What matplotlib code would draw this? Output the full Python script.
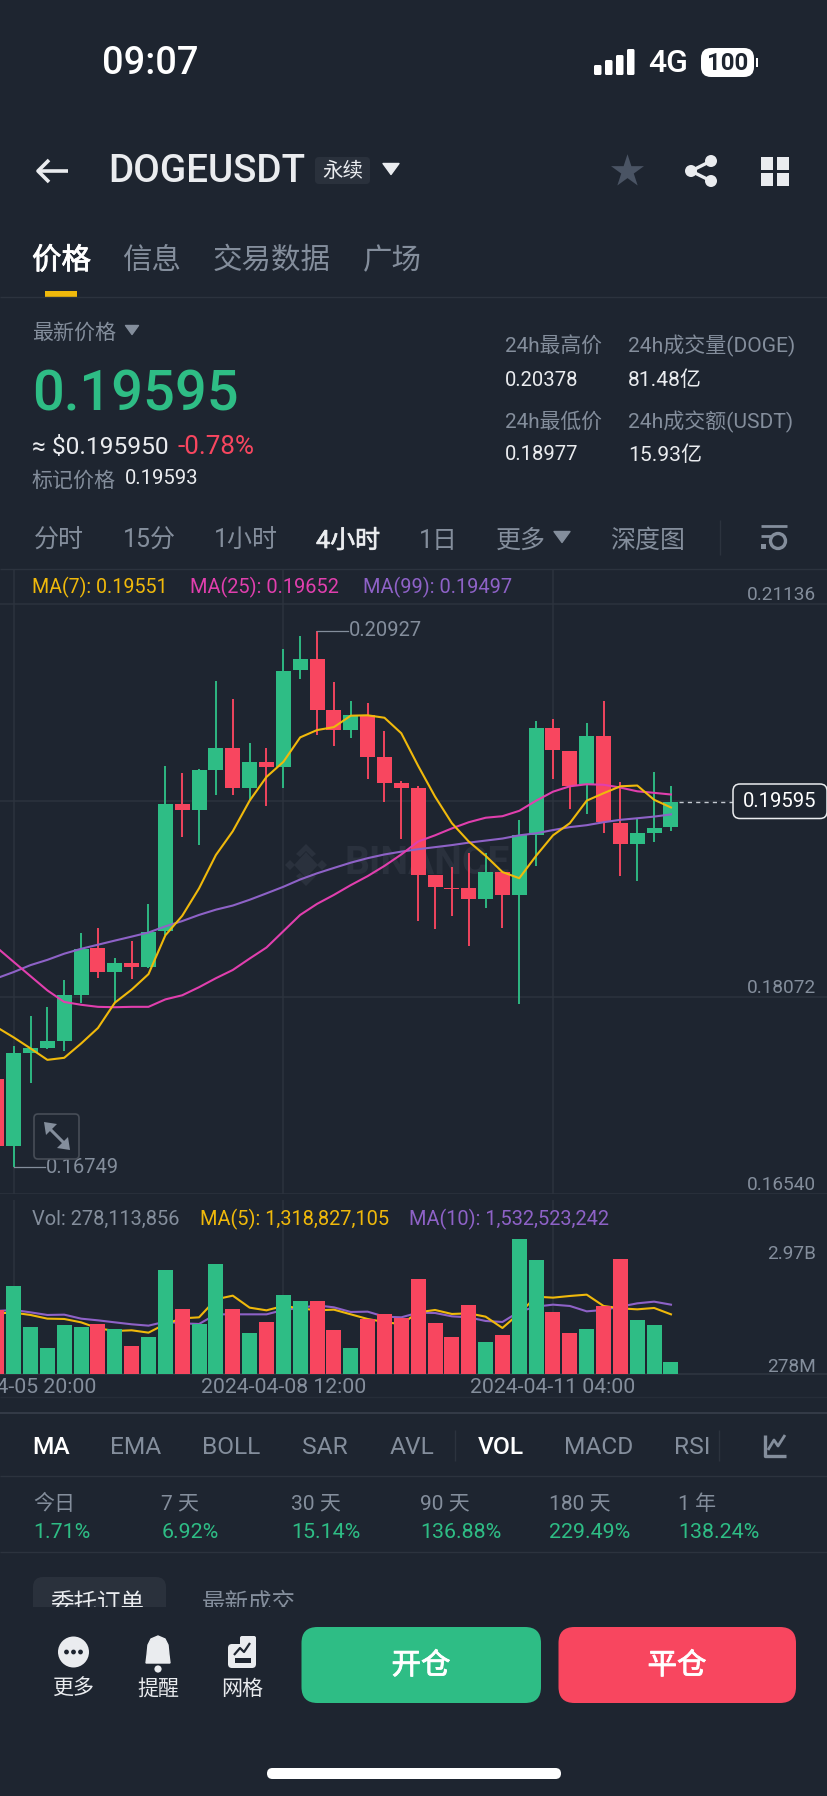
import matplotlib
matplotlib.use("Agg")
import matplotlib.pyplot as plt
import matplotlib.patheffects as pe
from matplotlib.patches import FancyBboxPatch, Rectangle, Circle, Polygon
from matplotlib.transforms import ScaledTranslation

plt.rcParams['font.family'] = ['Roboto', 'Noto Sans CJK SC', 'DejaVu Sans']

BG = '#1E2530'; GRID = '#2C333E'; GREY = '#848E9C'; WHITE = '#EAECEF'
UP = '#2EBD85'; DOWN = '#F8465F'; YEL = '#F0B90B'; PINK = '#E13FAE'; PUR = '#8E62C7'

candle_index = list(range(-1, 40))
opens = [.17432,.16917,.17642,.17680,.17734,.18094,.18453,.18272,.18342,.18310,.18587,.19576,.19531,.19840,.20011,.19706,.19903,.19868,.20622,.20708,.20307,.20151,.20275,.19941,.19741,.19706,.19026,.18924,.18924,.18841,.19045,.18873,.19334,.20173,.19992,.19732,.20104,.19430,.19267,.19350,.19395]
closes = [.16917,.17642,.17680,.17728,.18094,.18450,.18272,.18342,.18310,.18583,.19576,.19531,.19840,.20011,.19706,.19903,.19868,.20616,.20708,.20307,.20151,.20275,.19941,.19744,.19706,.19026,.18930,.18917,.18841,.19045,.18873,.19334,.20173,.19995,.19722,.20104,.19439,.19267,.19350,.19392,.19595]
highs = [.17490,.17696,.17925,.17998,.18205,.18570,.18615,.18380,.18507,.18800,.19875,.19821,.19852,.20536,.20399,.20053,.20015,.20787,.20886,.20927,.20530,.20380,.20368,.20145,.19757,.19716,.19026,.19089,.19200,.19200,.19045,.19452,.20221,.20243,.19992,.20208,.20380,.19751,.19461,.19830,.19716]
lows = [.16885,.16749,.17401,.17671,.17655,.18024,.18221,.18030,.18211,.18300,.18561,.19318,.19261,.19649,.19652,.19604,.19563,.19700,.20549,.20113,.20030,.20094,.19773,.19592,.19302,.18666,.18602,.18704,.18469,.18768,.18612,.18021,.19098,.19770,.19541,.19503,.19353,.19016,.18978,.19280,.19369]
ma7 = [.17839,.17760,.17674,.17585,.17601,.17712,.17833,.18030,.18132,.18253,.18555,.18707,.18921,.19181,.19366,.19604,.19789,.19906,.20097,.20154,.20177,.20266,.20269,.20250,.20129,.19875,.19636,.19429,.19286,.19175,.19048,.19000,.19175,.19334,.19429,.19604,.19662,.19716,.19722,.19611,.19551]
ma25 = [.18460,.18348,.18237,.18126,.18036,.18014,.17998,.17995,.17998,.17998,.18056,.18088,.18151,.18221,.18285,.18374,.18460,.18587,.18714,.18800,.18870,.18946,.19016,.19096,.19185,.19286,.19334,.19388,.19436,.19471,.19483,.19525,.19604,.19674,.19716,.19732,.19728,.19706,.19677,.19665,.19652]
ma99 = [.18221,.18269,.18323,.18364,.18412,.18450,.18482,.18514,.18545,.18577,.18625,.18666,.18714,.18755,.18787,.18832,.18882,.18933,.18990,.19038,.19080,.19121,.19156,.19185,.19207,.19226,.19242,.19258,.19277,.19293,.19309,.19334,.19350,.19375,.19398,.19413,.19436,.19455,.19467,.19480,.19497]
volume_b = [1.407,1.942,1.041,0.586,1.078,1.034,1.114,0.990,0.623,0.821,2.287,1.429,1.100,2.426,1.429,0.916,1.151,1.745,1.620,1.620,0.975,0.586,1.209,1.327,1.231,2.104,1.121,0.828,1.532,0.711,0.872,2.970,2.514,1.363,0.909,0.990,1.510,2.536,1.187,1.078,0.278]
vol_ma5 = [1.341,1.356,1.305,1.224,1.217,1.143,1.012,0.953,0.968,0.916,1.107,1.231,1.253,1.649,1.730,1.466,1.407,1.503,1.451,1.407,1.422,1.319,1.217,1.151,1.100,1.363,1.415,1.327,1.341,1.268,1.019,1.341,1.708,1.686,1.723,1.752,1.503,1.451,1.429,1.459,1.319]
vol_ma10 = [1.393,1.415,1.363,1.305,1.312,1.224,1.187,1.143,1.100,1.070,1.158,1.121,1.107,1.319,1.319,1.319,1.319,1.415,1.459,1.517,1.473,1.371,1.378,1.268,1.253,1.356,1.349,1.275,1.253,1.173,1.151,1.378,1.488,1.532,1.503,1.385,1.415,1.488,1.561,1.598,1.532]
price_ticks = [0.21136, 0.19604, 0.18072, 0.16540]
price_tick_labels = ['0.21136', '', '0.18072', '0.16540']
date_ticks = [0, 16, 32]
date_labels = ['2024-04-05 20:00', '2024-04-08 12:00', '2024-04-11 04:00']
vol_ticks = [2.97, 0.278]
vol_tick_labels = ['2.97B', '278M']
last_price = 0.19595

W, H = 828, 1796
fig = plt.figure(figsize=(W/100, H/100), dpi=100, facecolor=BG)

def px_rect(x0, y0, x1, y1):
    return [x0/W, 1-y1/H, (x1-x0)/W, (y1-y0)/H]

ui = fig.add_axes([0, 0, 1, 1], zorder=0)
ui.set_xlim(0, W); ui.set_ylim(H, 0); ui.axis('off')
top = fig.add_axes([0, 0, 1, 1], zorder=5)
top.set_xlim(0, W); top.set_ylim(H, 0); top.axis('off'); top.patch.set_alpha(0)

def T(x, y, s, px, color=GREY, ha='left', weight='normal', ax=ui, stroke=0, **kw):
    t = ax.text(x, y, s, fontsize=px*0.72, color=color, ha=ha, va='center', fontweight=weight, **kw)
    if stroke:
        t.set_path_effects([pe.withStroke(linewidth=stroke, foreground=color)])
    return t
def R(x0, y0, x1, y1, fc, ax=ui, r=0, ec='none', lw=0, z=2):
    if r:
        p = FancyBboxPatch((x0+r, y0+r), x1-x0-2*r, y1-y0-2*r, boxstyle=f'round,pad={r},rounding_size={r}', fc=fc, ec=ec, lw=lw, zorder=z)
    else:
        p = Rectangle((x0, y0), x1-x0, y1-y0, fc=fc, ec=ec, lw=lw, zorder=z)
    ax.add_patch(p); return p
def L(xs, ys, c=GRID, lw=1.0, ax=ui, **kw):
    ax.plot(xs, ys, color=c, lw=lw, solid_capstyle=kw.pop('cap', 'butt'), **kw)
def TRI(x, y, w, h, c, ax=ui):
    ax.add_patch(Polygon([(x-w/2, y-h/2), (x+w/2, y-h/2), (x, y+h/2)], fc=c, ec=c, lw=1, joinstyle='round'))

AX_PX = 19.0
ax_pad = -12*0.72
xlim = (-0.811, 48.317)
ax = fig.add_axes(px_rect(0, 570, W, 1194), zorder=2)
ax.patch.set_alpha(0)
ax.set_xlim(*xlim); ax.set_ylim(0.16540, 0.214009)
for s in ax.spines.values():
    s.set_visible(False)
ax.set_xticks(date_ticks); ax.set_xticklabels([])
ax.yaxis.tick_right()
ax.set_yticks(price_ticks); ax.set_yticklabels(price_tick_labels)
ax.tick_params(axis='both', length=0)
ax.tick_params(axis='y', pad=ax_pad, labelsize=AX_PX*0.72, labelcolor=GREY)
for lab in ax.get_yticklabels():
    lab.set_horizontalalignment('right'); lab.set_verticalalignment('bottom')
ax.grid(True, color=GRID, lw=1.1)
ax.set_axisbelow(True)

colors = [UP if c >= o else DOWN for o, c in zip(opens, closes)]
ax.vlines(candle_index, lows, highs, colors=colors, lw=1.35, zorder=2)
ax.bar(candle_index, [max(abs(c-o), 0.00006) for o, c in zip(opens, closes)],
       bottom=[min(o, c) for o, c in zip(opens, closes)], width=0.89, color=colors, zorder=3)
ax.plot(candle_index, ma99, color=PUR, lw=1.5, zorder=4)
ax.plot(candle_index, ma25, color=PINK, lw=1.5, zorder=4)
ax.plot(candle_index, ma7, color=YEL, lw=1.5, zorder=4)

hi = max(highs); lo = min(lows); hi_i = candle_index[highs.index(hi)]; lo_i = candle_index[lows.index(lo)]
ax.plot([hi_i, hi_i+1.85], [hi, hi], color=GREY, lw=0.9, zorder=4)
ax.plot([lo_i, lo_i+1.85], [lo, lo], color=GREY, lw=0.9, zorder=4)
ax.annotate(f'{hi:.5f}', (hi_i+1.9, hi), color=GREY, fontsize=20.2*0.72, va='center', ha='left')
ax.annotate(f'{lo:.5f}', (lo_i+1.9, lo), color=GREY, fontsize=20.2*0.72, va='center', ha='left')
ax.plot([candle_index[-1]+0.45, 42.7], [last_price, last_price], color='#C4C9D0', lw=1.0, dashes=(3, 3), zorder=1)

vax = fig.add_axes(px_rect(0, 1200, W, 1374.3), zorder=2)
vax.patch.set_alpha(0)
vax.set_xlim(*xlim); vax.set_ylim(0, 3.834)
for s in vax.spines.values():
    s.set_visible(False)
vax.spines['bottom'].set_visible(True); vax.spines['bottom'].set_color(GRID); vax.spines['bottom'].set_linewidth(1.4)
vax.set_xticks(date_ticks); vax.set_xticklabels(date_labels)
vax.yaxis.tick_right()
vax.set_yticks(vol_ticks); vax.set_yticklabels(vol_tick_labels)
vax.tick_params(axis='both', length=0)
vax.tick_params(axis='x', pad=3, labelsize=21.3*0.72, labelcolor=GREY)
vax.tick_params(axis='y', pad=ax_pad, labelsize=AX_PX*0.72, labelcolor=GREY)
for lab in vax.get_yticklabels():
    lab.set_horizontalalignment('right')
vlabs = vax.get_yticklabels()
vlabs[0].set_transform(vlabs[0].get_transform() + ScaledTranslation(0, -13/100, fig.dpi_scale_trans))
vlabs[1].set_transform(vlabs[1].get_transform() + ScaledTranslation(0, -3/100, fig.dpi_scale_trans))
vax.xaxis.grid(True, color=GRID, lw=1.1)
vax.set_axisbelow(True)
vax.plot(candle_index, vol_ma10, color=PUR, lw=1.5, zorder=2)
vax.plot(candle_index, vol_ma5, color=YEL, lw=1.5, zorder=2)
vax.bar(candle_index, volume_b, width=0.89, color=colors, zorder=3)

# watermark
WM = '#2A313D'
ui.add_patch(Polygon([(306, 852), (318, 865), (306, 878), (294, 865)], fc=WM, ec='none'))
ui.add_patch(Polygon([(306, 844), (296, 854), (300, 857), (306, 851), (312, 857), (316, 854)], fc=WM, ec='none'))
ui.add_patch(Polygon([(306, 886), (296, 876), (300, 873), (306, 879), (312, 873), (316, 876)], fc=WM, ec='none'))
ui.add_patch(Polygon([(285, 865), (290, 860), (295, 865), (290, 870)], fc=WM, ec='none'))
ui.add_patch(Polygon([(327, 865), (322, 860), (317, 865), (322, 870)], fc=WM, ec='none'))
T(345, 864, 'BINANCE', 39, WM, weight='bold')

# status bar
T(150, 64, '09:07', 38, '#FFFFFF', ha='center', weight='medium')
for x, h in zip([594, 605, 616, 627], [10, 15, 20, 26]):
    R(x, 75-h, x+7.5, 75, '#FFFFFF', r=1.5)
T(668, 64, '4G', 32, '#FFFFFF', ha='center', weight='medium')
R(701, 48, 754, 77, '#FFFFFF', r=10)
R(756, 58, 758, 67, '#FFFFFF')
T(727.5, 63, '100', 24, BG, ha='center', weight='bold')

# title row
L([39, 68], [171, 171], WHITE, 2.6)
L([49, 38, 49], [160, 171, 182], WHITE, 2.6)
T(108, 172, 'DOGEUSDT', 38.6, WHITE, weight='medium')
R(315, 157, 370, 184, '#2A313C', r=4)
T(342.5, 171, '永续', 20.5, WHITE, ha='center')
TRI(391, 169, 16, 11, WHITE)
top.scatter([627], [171], marker='*', s=620, c='#4A5464', linewidths=0)
for a, b in [((691, 171), (711, 161)), ((691, 171), (711, 181))]:
    L([a[0], b[0]], [a[1], b[1]], WHITE, 2.4)
for x, y in [(691, 171), (711, 161), (711, 181)]:
    ui.add_patch(Circle((x, y), 6, fc=WHITE, ec='none', zorder=3))
for x0, y0 in [(761, 157), (777, 157), (761, 173), (777, 173)]:
    R(x0, y0, x0+12.5, y0+12.5, WHITE)

# tabs
T(32, 261, '价格', 29.5, '#FFFFFF', stroke=0.6)
T(122.5, 261, '信息', 29.5)
T(213, 261, '交易数据', 29.5)
T(363, 261, '广场', 29.5)
R(45, 291, 77, 297, YEL)
L([0, W], [297, 297])

# price block
T(32, 333, '最新价格', 21)
TRI(132, 330, 13, 9, GREY)
T(32, 395, '0.19595', 56, UP, weight='medium')
T(32, 447, '≈ $0.195950', 24.5, WHITE)
T(177.5, 447, '-0.78%', 26, DOWN)
T(32, 481, '标记价格', 21)
T(125, 479, '0.19593', 20.3, WHITE)
T(505, 346, '24h最高价', 20.8); T(505, 380, '0.20378', 20.3, WHITE)
T(505, 422, '24h最低价', 20.8); T(505, 455, '0.18977', 20.3, WHITE)
T(628, 346, '24h成交量(DOGE)', 21); T(628, 380, '81.48亿', 21, WHITE)
T(628, 422, '24h成交额(USDT)', 21); T(628, 455, '15.93亿', 21, WHITE)

# interval row
for x, s in [(34, '分时'), (122.5, '15分'), (214, '1小时'), (419, '1日'), (496, '更多'), (610, '深度图')]:
    T(x, 541, s, 25)
T(316, 541, '4小时', 25, WHITE, stroke=0.5)
TRI(562, 537, 16, 11, GREY)
L([720, 720], [520, 555])
L([761, 787], [526, 526], GREY, 2.0)
L([761, 772], [536, 536], GREY, 2.0)
R(761, 544, 766, 549, GREY)
ui.add_patch(Circle((778, 541), 7.5, fc='none', ec=GREY, lw=2.4, zorder=3))
L([0, W], [569, 569])

# chart legends
T(32, 587, 'MA(7): 0.19551', 19.6, YEL, ax=top)
T(190, 587, 'MA(25): 0.19652', 20, PINK, ax=top)
T(363, 587, 'MA(99): 0.19497', 20, PUR, ax=top)
T(32, 1219, 'Vol: 278,113,856', 20, GREY, ax=top)
T(200, 1219, 'MA(5): 1,318,827,105', 20, YEL, ax=top)
T(409, 1219, 'MA(10): 1,532,523,242', 20, PUR, ax=top)

# expand button
R(34, 1114, 79, 1159, BG, ax=top, r=4, ec='#474D57', lw=1.2, z=3)
top.add_patch(Polygon([(44, 1122), (57, 1124), (46, 1135)], fc=GREY, ec='none', zorder=4))
top.add_patch(Polygon([(70, 1150), (57, 1148), (68, 1137)], fc=GREY, ec='none', zorder=4))
L([48, 66], [1127, 1145], GREY, 2.2, ax=top, zorder=4)

# last price pill
R(733, 784, 827, 818.5, BG, ax=top, r=7, ec='#EAECEF', lw=1.1, z=3)
T(780, 801.5, '0.19595', 20.3, '#FFFFFF', ha='center', ax=top, zorder=4)

# indicator row
L([0, W], [1397, 1397], '#262D38')
L([0, W], [1413, 1413], '#343B47', 1.4)
for x, s, c, w in [(32, 'MA', '#FFFFFF', 'medium'), (110, 'EMA', GREY, 'normal'), (202, 'BOLL', GREY, 'normal'), (302, 'SAR', GREY, 'normal'),
                   (390, 'AVL', GREY, 'normal'), (478, 'VOL', '#FFFFFF', 'medium'), (564, 'MACD', GREY, 'normal'), (674, 'RSI', GREY, 'normal')]:
    T(x, 1448, s, 24.5, c, weight=w)
L([455, 455], [1430, 1461]); L([719, 719], [1430, 1461])
L([765, 765, 786], [1435, 1456, 1456], GREY, 2.4)
L([768, 774, 778, 785], [1450, 1440, 1446, 1435], GREY, 2.0)
L([0, W], [1476, 1476])

# performance row
for x, a, b in [(33, '今日', '1.71%'), (161.5, '7 天', '6.92%'), (291, '30 天', '15.14%'), (420, '90 天', '136.88%'), (549, '180 天', '229.49%'), (678, '1 年', '138.24%')]:
    T(x, 1504, a, 21)
    T(x, 1533, b, 21.4, UP)
L([0, W], [1552, 1552])

# cropped order-book tabs
R(33, 1577, 166, 1625, '#2A313C', r=10)
T(50, 1603, '委托订单', 23.5, WHITE)
T(202, 1603, '最新成交', 23.5)
R(0, 1607, W, H, BG, z=6)

# bottom actions
z = 7
ui.add_patch(Circle((73.5, 1652), 15.5, fc=WHITE, ec='none', zorder=z))
for dx in (-7, 0, 7):
    ui.add_patch(Circle((73.5+dx, 1652), 2.4, fc=BG, ec='none', zorder=z+1))
ui.add_patch(Polygon([(146, 1663), (147, 1655), (148, 1645), (151, 1639), (158, 1636), (165, 1639), (168, 1645), (169, 1655), (170, 1663)], fc=WHITE, ec=WHITE, zorder=z))
ui.add_patch(Circle((158, 1669), 3.6, fc=WHITE, ec='none', zorder=z))
R(228, 1644, 256, 1668, WHITE, r=4, z=z)
R(240, 1636, 256, 1650, WHITE, r=2, z=z)
L([234, 240, 244, 250], [1655, 1648, 1652, 1643], BG, 1.6, zorder=z+1)
R(235, 1658, 251, 1663, BG, z=z+1)
for x, s in [(73.5, '更多'), (158, '提醒'), (242, '网格')]:
    T(x, 1689, s, 21, WHITE, ha='center', zorder=z)
R(301.5, 1627, 541, 1703, UP, r=16, z=z)
R(558.5, 1627, 796, 1703, DOWN, r=16, z=z)
T(421, 1666, '开仓', 29.5, '#FFFFFF', ha='center', stroke=0.6, zorder=z+1)
T(677, 1666, '平仓', 29.5, '#FFFFFF', ha='center', stroke=0.6, zorder=z+1)
R(267, 1768, 561, 1779, '#FFFFFF', r=5.5, z=z)

fig.savefig('out.png', dpi=100, facecolor=BG)
